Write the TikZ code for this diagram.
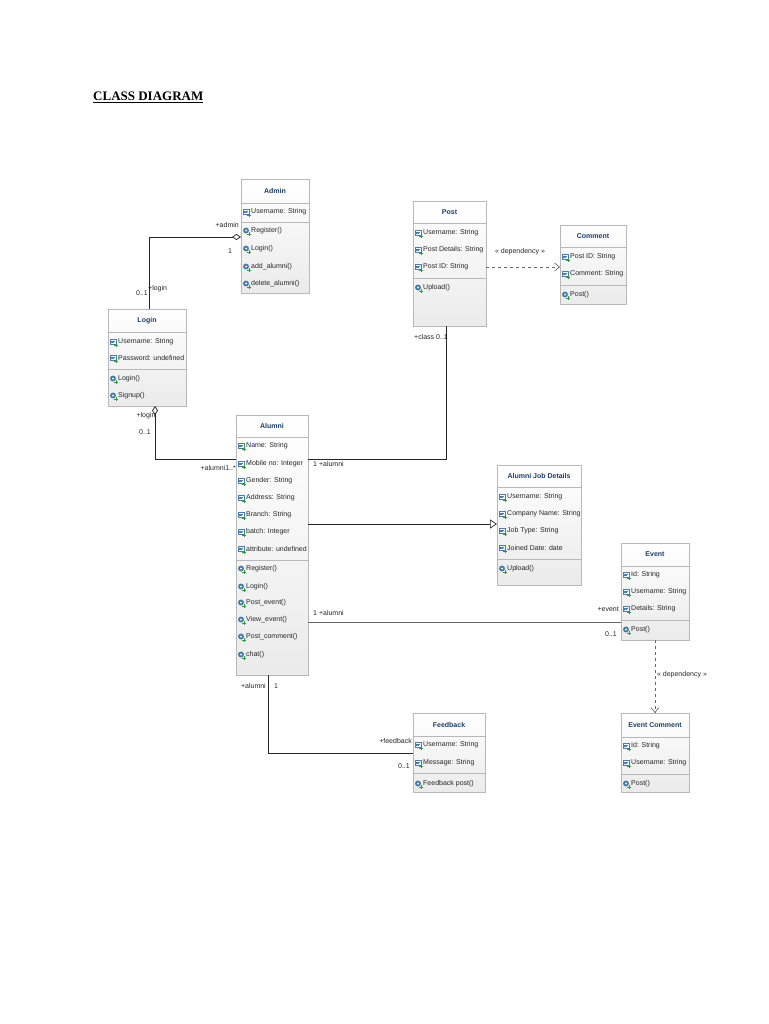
\documentclass[tikz,border=0pt]{standalone}
\usepackage{fontspec}
\setmainfont{Liberation Sans}
\newfontfamily\titlefont{Liberation Serif}
\usetikzlibrary{arrows.meta,calc}
\definecolor{hdr}{HTML}{1F3F66}
\definecolor{bord}{HTML}{B8B8B8}
\definecolor{icb}{HTML}{4A7FA8}
\definecolor{icg}{HTML}{2E9A3E}
\tikzset{
 cls/.style={draw=bord, top color=white, bottom color=black!8, inner sep=0pt, anchor=north west},
 hdrtxt/.style={font=\fontsize{7}{8}\selectfont\bfseries, text=hdr},
 rowtxt/.style={font=\fontsize{7}{8}\selectfont, anchor=west, inner sep=0pt, text=black!85},
 lbl/.style={font=\fontsize{7}{8}\selectfont, inner sep=0pt, text=black!85},
 conn/.style={draw=black!85, line width=0.7pt},
 dep/.style={draw=black!60, dashed, line width=0.6pt, -{Straight Barb[length=5pt,width=8pt]}},
}
\newcommand\attrrow[3]{%
 \draw[icb, line width=0.5pt] (#1+2,#2-3) rectangle (#1+8,#2+2);
 \draw[icb, line width=0.4pt] (#1+3,#2-1) -- (#1+7,#2-1) (#1+3,#2+0.5) -- (#1+6,#2+0.5);
 \draw[icg, line width=0.9pt] (#1+6,#2+3) -- (#1+10,#2+3) (#1+8,#2+1) -- (#1+8,#2+5);
 \node[rowtxt] at (#1+10,#2) {#3};}
\newcommand\oprow[3]{%
 \fill[icb] (#1+5,#2-0.5) circle (3pt);
 \fill[white] (#1+5,#2-0.5) circle (1pt);
 \draw[icg, line width=0.9pt] (#1+6,#2+3) -- (#1+10,#2+3) (#1+8,#2+1) -- (#1+8,#2+5);
 \node[rowtxt] at (#1+10,#2) {#3};}
% box: name, x, y, w, h, title, header bottom, sep
\newcommand\umlbox[8]{%
 \node[cls, minimum width=#4pt, minimum height=#5pt] (#1) at (#2,#3) {};
 \node[hdrtxt] (#1t) at (#2+#4/2,{(#3+#7)/2}) {#6};
 \draw[bord] (#2,#7) -- (#2+#4,#7) (#2,#8) -- (#2+#4,#8);}
\begin{document}
\begin{tikzpicture}[x=1pt,y=-1pt]
\useasboundingbox (0,0) rectangle (768,1024);
\node[font=\titlefont\fontsize{13}{15}\selectfont\bfseries, anchor=west, inner sep=0pt] (title) at (93,97) {\underline{CLASS DIAGRAM}};

% Admin
\umlbox{admin}{241}{179}{68}{114}{Admin}{203}{222}
\attrrow{241}{212}{Username: String}
\oprow{241}{231}{Register()}
\oprow{241}{249}{Login()}
\oprow{241}{267}{add\_alumni()}
\oprow{241}{284}{delete\_alumni()}
% Post
\umlbox{post}{413}{201}{73}{125}{Post}{223}{278}
\attrrow{413}{233}{Username: String}
\attrrow{413}{250}{Post Details: String}
\attrrow{413}{267}{Post ID: String}
\oprow{413}{288}{Upload()}
% Comment
\umlbox{comment}{560}{225}{66}{79}{Comment}{247}{285}
\attrrow{560}{257}{Post ID: String}
\attrrow{560}{274}{Comment: String}
\oprow{560}{295}{Post()}
% Login
\umlbox{login}{108}{309}{78}{97}{Login}{332}{369}
\attrrow{108}{342}{Username: String}
\attrrow{108}{358}{Password: undefined}
\oprow{108}{379}{Login()}
\oprow{108}{396}{Signup()}
% Alumni
\umlbox{alumni}{236}{415}{72}{260}{Alumni}{437}{560}
\attrrow{236}{446}{Name: String}
\attrrow{236}{464}{Mobile no: Integer}
\attrrow{236}{481}{Gender: String}
\attrrow{236}{498}{Address: String}
\attrrow{236}{515}{Branch: String}
\attrrow{236}{532}{batch: Integer}
\attrrow{236}{549}{attribute: undefined}
\oprow{236}{569}{Register()}
\oprow{236}{587}{Login()}
\oprow{236}{603}{Post\_event()}
\oprow{236}{620}{View\_event()}
\oprow{236}{637}{Post\_comment()}
\oprow{236}{655}{chat()}
% Alumni Job Details
\umlbox{job}{497}{465}{84}{120}{Alumni Job Details}{487}{559}
\attrrow{497}{497}{Username: String}
\attrrow{497}{514}{Company Name: String}
\attrrow{497}{531}{Job Type: String}
\attrrow{497}{548}{Joined Date: date}
\oprow{497}{569}{Upload()}
% Event
\umlbox{event}{621}{543}{68}{97}{Event}{566}{620}
\attrrow{621}{575}{Id: String}
\attrrow{621}{592}{Username: String}
\attrrow{621}{609}{Details: String}
\oprow{621}{630}{Post()}
% Event Comment
\umlbox{ecomment}{621}{713}{68}{79}{Event Comment}{737}{774}
\attrrow{621}{746}{Id: String}
\attrrow{621}{763}{Username: String}
\oprow{621}{784}{Post()}
% Feedback
\umlbox{feedback}{413}{713}{72}{79}{Feedback}{736}{773}
\attrrow{413}{745}{Username: String}
\attrrow{413}{763}{Message: String}
\oprow{413}{784}{Feedback post()}

% connectors
\coordinate (a1) at (241,237);
\coordinate (l1) at (149,309);
\draw[conn, {Diamond[open,length=9pt,width=6pt]}-] (a1) -- (l1 |- a1) -- (l1);
\node[lbl, anchor=east] at (239,225) {+admin};
\node[lbl] at (230,251) {1};
\node[lbl, anchor=east] at (148,293) {0..1};
\node[lbl, anchor=west] at (148,289) {+login};

\coordinate (l2) at (155,406);
\coordinate (al1) at (236,459);
\draw[conn, {Diamond[open,length=9pt,width=6pt]}-] (l2) -- (l2 |- al1) -- (al1);
\node[lbl] at (146,416) {+login};
\node[lbl] at (145,432) {0..1};
\node[lbl, anchor=east] at (236,468) {+alumni1..*};

\coordinate (al2) at (308,459);
\coordinate (p1) at (446,326);
\draw[conn] (al2) -- (p1 |- al2) -- (p1);
\node[lbl, anchor=west] at (313,464) {1 +alumni};
\node[lbl, anchor=west] at (414,337) {+class 0..1};

\coordinate (al3) at (308,524);
\coordinate (j1) at (497,524);
\draw[conn, -{Triangle[open,length=7pt,width=9pt]}] (al3) -- (j1);

\coordinate (al4) at (308,622);
\coordinate (e1) at (621,622);
\draw[conn, draw=black!60] (al4) -- (e1);
\node[lbl, anchor=west] at (313,613) {1 +alumni};
\node[lbl, anchor=east] at (619,609) {+event};
\node[lbl, anchor=east] at (617,634) {0..1};

\coordinate (al5) at (268,675);
\coordinate (f1) at (413,753);
\draw[conn] (al5) -- (al5 |- f1) -- (f1);
\node[lbl, anchor=east] at (266,686) {+alumni};
\node[lbl] at (276,686) {1};
\node[lbl, anchor=east] at (412,741) {+feedback};
\node[lbl, anchor=east] at (410,766) {0..1};

\coordinate (p2) at (486,267);
\coordinate (c1) at (560,267);
\draw[dep] (p2) -- (c1);
\node[lbl] at (520,252) {« dependency »};
\coordinate (e2) at (655,640);
\coordinate (ec1) at (655,713);
\draw[dep] (e2) -- (ec1);
\node[lbl] at (682,675) {« dependency »};
\end{tikzpicture}
\end{document}
